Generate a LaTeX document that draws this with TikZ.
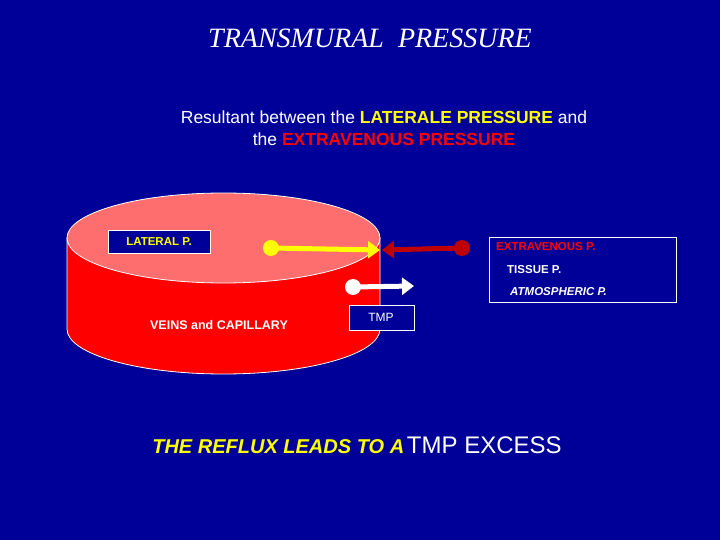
\documentclass[tikz,border=0pt]{standalone}
\usepackage{fontspec}
\setmainfont{Liberation Serif}
\setsansfont{Liberation Sans}
\usetikzlibrary{arrows.meta}
\definecolor{bg}{RGB}{0,0,153}
\definecolor{pinktop}{RGB}{255,110,110}
\definecolor{darkred}{RGB}{190,0,0}
\definecolor{ylw}{RGB}{255,255,0}
\tikzset{
  lbl/.style={draw=white,fill=bg,inner sep=0pt,font=\sffamily\bfseries\fontsize{11.5}{12}\selectfont},
  fat/.style={line width=5pt,-{Triangle[length=12pt,width=17pt]}},
  dot/.style={circle,inner sep=0pt,minimum size=16pt}
}
\begin{document}
\begin{tikzpicture}[x=1pt,y=-1pt]
\fill[bg] (0,0) rectangle (720,540);
\useasboundingbox (0,0) rectangle (720,540);
\node (title) at (370,38) {\fontsize{28}{30}\selectfont\itshape\color{white}TRANSMURAL~ PRESSURE};
\node[align=center,text=white,font=\sffamily\fontsize{17.5}{22}\selectfont] (sub) at (384,128)
 {Resultant between the \textbf{\color{ylw}LATERALE PRESSURE} and\\ the \textbf{\color{red}EXTRAVENOUS PRESSURE}};
% cylinder
\fill[red,draw=white,line width=0.8pt] (67,238) -- (67,329) arc[start angle=180,end angle=0,x radius=156.5,y radius=45] -- (380,238) -- cycle;
\fill[pinktop,draw=white,line width=0.8pt] (223.5,238) ellipse[x radius=156.5,y radius=45];
\node[lbl,minimum width=102pt,minimum height=23pt,text=ylw] (lat) at (159,241.5) {LATERAL P.};
\node[font=\sffamily\bfseries\fontsize{12.5}{13}\selectfont,text=white] (veins) at (219,325) {VEINS and CAPILLARY};
% arrows
\node[dot,fill=ylw] (yd) at (271,248) {};
\coordinate (yt) at (380,250);
\draw[fat,ylw] (yd.center) -- (yt);
\node[dot,fill=darkred] (rd) at (462,248) {};
\coordinate (rt) at (382,250);
\draw[fat,darkred] (rd.center) -- (rt);
\node[dot,fill=white] (wd) at (353,287) {};
\coordinate (wt) at (414,286);
\draw[fat,white] (wd.center) -- (wt);
\node[draw=white,fill=bg,minimum width=65pt,minimum height=25pt,anchor=north west,inner sep=0pt] (tmp) at (349,305) {};
\node[font=\sffamily\fontsize{12}{13}\selectfont,text=white] at (381,317) {TMP};
\draw[white,line width=0.8pt] (489,237) rectangle (676,302);
\node[anchor=west,font=\sffamily\bfseries\fontsize{11.5}{12}\selectfont,text=red,inner sep=0pt] (ex) at (496,247) {EXTRAVENOUS P.};
\node[anchor=west,font=\sffamily\bfseries\fontsize{11.5}{12}\selectfont,text=white,inner sep=0pt] (ti) at (507,270) {TISSUE P.};
\node[anchor=west,font=\sffamily\bfseries\itshape\fontsize{11.5}{12}\selectfont,text=white,inner sep=0pt] (at) at (510,292) {ATMOSPHERIC P.};
\node (bottom) at (357,445) {\sffamily{\bfseries\itshape\fontsize{20}{22}\selectfont\color{ylw}THE REFLUX LEADS TO A} {\fontsize{24}{26}\selectfont\color{white}TMP EXCESS}};
\end{tikzpicture}
\end{document}
